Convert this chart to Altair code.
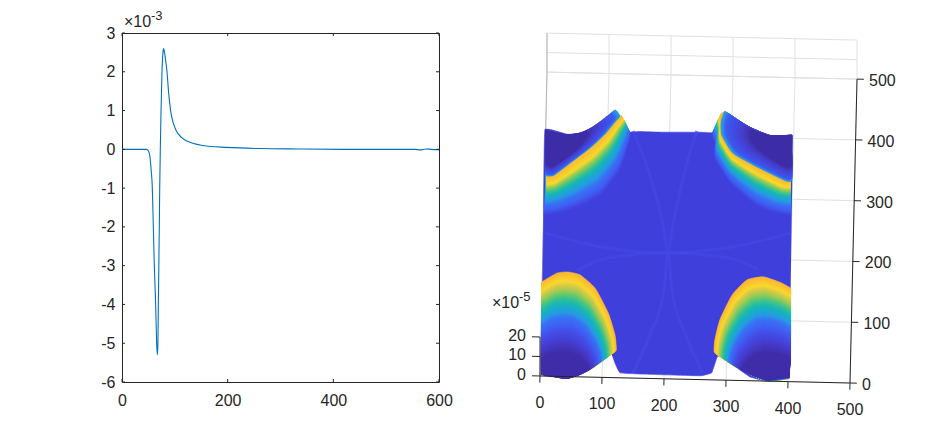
import altair as alt
import pandas as pd

FONT = "Liberation Sans"
INK = "#262626"
GRID = "#E0E0E0"

# left panel
line_x = [0, 20, 40, 46, 49, 52, 55, 57.4, 59.3, 61.2, 63.7, 65.6, 66.9, 68, 68.8, 69.7, 70.6, 71.4,
          72.5, 73.9, 75.7, 77.5, 78.8, 80.5, 83, 85.2, 88, 92, 97, 102, 113, 125, 153, 198, 261, 337,
          420, 500, 555, 565, 575, 585, 600]
line_y = [0, 0, 0, 0, -0.02, -0.12, -0.5, -1, -2, -3, -4, -5, -5.3, -5, -4, -3, -2, -1,
          0, 1, 2, 2.5, 2.6, 2.5, 2.25, 2, 1.5, 1, 0.68, 0.5, 0.3, 0.2, 0.1, 0.05, 0.02, 0.01,
          0, 0, 0, -0.015, 0.01, 0, -0.01]
left_xticks = [0, 200, 400, 600]
left_yticks = [-6, -5, -4, -3, -2, -1, 0, 1, 2, 3]

# right panel ticks
xy_ticks = [0, 100, 200, 300, 400, 500]
z_ticks = [0, 10, 20]

# surface outline, starts bottom right and ends top right
outline_u = [402, 400, 366, 339, 315, 287, 277, 258, 161, 129, 121, 115, 85, 48, 2, 4, 6,
             8, 48, 81, 105, 121, 127, 132, 142, 161, 194, 258, 281, 289, 297, 303, 331, 371, 408]
outline_v = [8, 7, 3, 10, 27, 45, 17, 12, 15, 17, 33, 48, 25, 10, 15, 150, 290,
             422, 413, 420, 438, 455, 448, 425, 418, 419, 418, 418, 417, 430, 452, 450, 430, 412, 413]
surface_blue = "#3F3FDC"

# ripples on the flat part
ripples = [
    [(8, 250), (108, 225), (206, 217), (306, 226), (404, 250)],
    [(60, 188), (108, 208), (206, 217), (306, 208), (350, 190)],
    [(150, 420), (177, 347), (200, 255), (206, 217), (200, 155), (177, 80), (150, 17)],
    [(253, 420), (232, 347), (213, 255), (206, 217), (213, 155), (235, 80), (262, 17)],
]
ripple_color = "#4549E4"

# corner humps: contour from inner to outer edge
ll_outer = [(2, 168), (27, 183), (45, 185), (65, 180), (89, 158), (110, 117), (121, 80), (123, 55), (115, 48), (85, 25), (48, 10), (2, 15)]
ll_inner = [(2, 25), (12, 32), (25, 36), (40, 38), (55, 34), (66, 28), (72, 22), (74, 18), (70, 16), (60, 12), (40, 7), (2, 15)]
lr_outer = [(405, 158), (387, 168), (360, 177), (334, 172), (310, 147), (290, 105), (282, 72), (281, 52), (289, 45), (315, 27), (366, 3), (402, 8)]
lr_inner = [(405, 25), (395, 32), (380, 36), (365, 38), (350, 34), (338, 28), (332, 22), (330, 18), (335, 16), (345, 12), (366, 6), (402, 10)]
hump_levels = [1, .95, .9, .85, .8, .75, .7, .65, .6, .55, .5, .42, .34, .26, .18, .1]
hump_colors = ["#FBB537", "#FBC62F", "#F6D92C", "#D1C94A", "#9DCB55", "#5FC870", "#2FC09A", "#18B5B7",
               "#1CA8D0", "#2899E3", "#3773F5", "#3F5FF2", "#444CE6", "#4540D6", "#4436BF", "#3E2CA8"]

# top humps: fan below the crest
ul_crest = [(12, 343), (22, 346), (48, 366), (81, 392), (105, 415), (121, 435), (129, 445)]
ul_edge = [(6, 278), (32, 282), (65, 293), (100, 312), (128, 350), (140, 385), (142, 419)]
ul_close = (10, 388)
ur_crest = [(404, 338), (396, 337), (350, 360), (311, 383), (293, 413), (292, 435), (297, 450)]
ur_edge = [(405, 277), (371, 285), (345, 297), (306, 333), (282, 372), (282, 397), (281, 417)]
ur_close = (403, 388)
fan_levels = [1, .85, .72, .62, .54, .46, .4, .34, .28, .2, .1, 0]
fan_colors = ["#3F40DD", "#3F5FF2", "#3773F5", "#2899E3", "#1CA8D0", "#18B5B7", "#2FC09A", "#5FC870",
              "#9DCB55", "#F6D92C", "#FBC62F", "#FBB537"]

# back side of the top humps
ul_back = [(8, 422), (48, 413), (81, 420), (105, 438), (121, 455), (129, 445), (121, 435), (105, 415), (81, 392), (48, 366), (22, 346), (9, 345)]
ul_core = [(8, 422), (40, 414), (58, 415), (70, 418), (78, 420), (78, 415), (72, 405), (62, 392), (48, 380), (32, 368), (18, 360), (9, 365)]
ur_back = [(406, 413), (371, 412), (331, 430), (303, 450), (297, 452), (292, 435), (293, 413), (311, 383), (350, 360), (396, 337), (406, 338), (406, 375)]
ur_core = [(406, 413), (375, 412), (358, 416), (345, 420), (340, 420), (338, 412), (342, 402), (352, 390), (372, 375), (396, 360), (406, 362), (406, 385)]
back_levels = [1, .95, .85, .7, .45, .2, 0]
back_colors = ["#21B0C0", "#2C8EEF", "#3D5CF0", "#3F50E6", "#4343DA", "#4338BE", "#3C2CA6"]


def view3d(x, y, z=0):
    # the view is almost from above, so the box only tilts a little
    return x + 0.0226 * y, 1.013 * y + 11.7 * (1 - x / 500) + 3.25 * z


def blend(a, b, t):
    return [(p[0] + (q[0] - p[0]) * t, p[1] + (q[1] - p[1]) * t) for p, q in zip(a, b)]


def mix(c1, c2, t):
    a = [int(c1[i:i + 2], 16) for i in (1, 3, 5)]
    b = [int(c2[i:i + 2], 16) for i in (1, 3, 5)]
    return "#" + "".join(f"{round(p + (q - p) * t):02X}" for p, q in zip(a, b))


def finer(levels, colors, steps=3):
    out_l, out_c = [], []
    for i in range(len(levels) - 1):
        for s in range(steps):
            f = s / steps
            out_l.append(levels[i] + (levels[i + 1] - levels[i]) * f)
            out_c.append(mix(colors[i], colors[i + 1], f))
    out_l.append(levels[-1])
    out_c.append(colors[-1])
    return out_l, out_c


polys = []


def add_poly(pts, color):
    polys.append((len(polys), pts, color))


add_poly(list(zip(outline_u, outline_v)), surface_blue)

for t, c in zip(*finer(fan_levels, fan_colors)):
    add_poly(blend(ul_crest, ul_edge, t) + [ul_close], c)
    add_poly(blend(ur_crest, ur_edge, t) + [ur_close], c)
for t, c in zip(*finer(back_levels, back_colors, 2)):
    add_poly(blend(ul_core, ul_back, t), c)
    add_poly(blend(ur_core, ur_back, t), c)
for t, c in zip(*finer(hump_levels, hump_colors)):
    add_poly(blend(ll_inner, ll_outer, t), c)
    add_poly(blend(lr_inner, lr_outer, t), c)

poly_rows = []
for pid, pts, c in polys:
    for i, (u, v) in enumerate(pts):
        poly_rows.append({"pid": pid, "i": i, "u": u, "v": v, "c": c})
poly_df = pd.DataFrame(poly_rows)

ripple_rows = []
for k, r in enumerate(ripples):
    for i, (u, v) in enumerate(r):
        ripple_rows.append({"k": k, "i": i, "u": u, "v": v})
ripple_df = pd.DataFrame(ripple_rows)

# grid lines of the 3d box
grid_rows = []


def add_seg(rows, name, a, b):
    for i, p in enumerate((a, b)):
        u, v = view3d(*p)
        rows.append({"k": name, "i": i, "u": u, "v": v})


for t in xy_ticks:
    add_seg(grid_rows, f"fx{t}", (t, 0, 0), (t, 500, 0))
    add_seg(grid_rows, f"fy{t}", (0, t, 0), (500, t, 0))
    add_seg(grid_rows, f"wv{t}", (t, 500, 0), (t, 500, z_ticks[-1]))
for z in z_ticks:
    add_seg(grid_rows, f"wh{z}", (0, 500, z), (500, 500, z))
grid_df = pd.DataFrame(grid_rows)

edge_rows = []
add_seg(edge_rows, "e0", (0, 0, 0), (0, 500, 0))
add_seg(edge_rows, "e1", (0, 500, 0), (0, 500, 20))
edge_df = pd.DataFrame(edge_rows)

axis_rows = []
add_seg(axis_rows, "x", (0, 0, 0), (500, 0, 0))
add_seg(axis_rows, "y", (500, 0, 0), (500, 500, 0))
add_seg(axis_rows, "z", (0, 0, 0), (0, 0, 20))
for t in xy_ticks:
    add_seg(axis_rows, f"tx{t}", (t, 0, 0), (t, -11, 0))
    add_seg(axis_rows, f"ty{t}", (500, t, 0), (511, t, 0))
for z in z_ticks:
    add_seg(axis_rows, f"tz{z}", (0, 0, z), (-13, 0, z))
axis_df = pd.DataFrame(axis_rows)

label_rows = []
for t in xy_ticks:
    u, v = view3d(t, 0, 0)
    label_rows.append({"u": u, "v": v, "s": str(t), "side": "x"})
    u, v = view3d(500, t, 0)
    label_rows.append({"u": u, "v": v, "s": str(t), "side": "y"})
for z in z_ticks:
    u, v = view3d(0, 0, z)
    label_rows.append({"u": u, "v": v, "s": str(z), "side": "z"})
label_df = pd.DataFrame(label_rows)

# scales: left panel fills the plot area, right panel hangs off to the side of it
U = alt.X("u:Q", axis=None, scale=alt.Scale(domain=[0, 500], range=[418, 728]))
V = alt.Y("v:Q", axis=None, scale=alt.Scale(domain=[0, 500], range=[350, 50]))
LX = alt.Scale(domain=[0, 600])
LY = alt.Scale(domain=[-6, 3])

left_df = pd.DataFrame({"x": line_x, "y": line_y})
curve = alt.Chart(left_df).mark_line(color="#0072BD", strokeWidth=1.1, interpolate="monotone").encode(
    x=alt.X("x:Q", scale=LX, axis=alt.Axis(
        values=left_xticks, grid=False, tickSize=0, labelPadding=10, domain=False,
        labelFont=FONT, labelFontSize=16, labelColor=INK, title=None, labelFlush=False)),
    y=alt.Y("y:Q", scale=LY, axis=alt.Axis(
        values=left_yticks, grid=False, tickSize=0, labelPadding=7, domain=False,
        labelFont=FONT, labelFontSize=16, labelColor=INK, title=None, labelExpr="'' + datum.value")),
    order="x:Q",
)

ticks_b = alt.Chart(pd.DataFrame({"x": left_xticks})).mark_rule(color=INK).encode(
    x=alt.X("x:Q", scale=LX, axis=None), y=alt.value(349), y2=alt.value(346))
ticks_t = alt.Chart(pd.DataFrame({"x": left_xticks})).mark_rule(color=INK).encode(
    x=alt.X("x:Q", scale=LX, axis=None), y=alt.value(0), y2=alt.value(3))
ticks_l = alt.Chart(pd.DataFrame({"y": left_yticks})).mark_rule(color=INK).encode(
    y=alt.Y("y:Q", scale=LY, axis=None), x=alt.value(0), x2=alt.value(3))
ticks_r = alt.Chart(pd.DataFrame({"y": left_yticks})).mark_rule(color=INK).encode(
    y=alt.Y("y:Q", scale=LY, axis=None), x=alt.value(317), x2=alt.value(314))

expo_base = alt.Chart(pd.DataFrame({"s": ["×10"]})).mark_text(
    font=FONT, fontSize=16, color=INK, align="left", baseline="middle").encode(
    x=alt.value(2), y=alt.value(-11), text="s:N")
expo_pow = alt.Chart(pd.DataFrame({"s": ["-3"]})).mark_text(
    font=FONT, fontSize=13, color=INK, align="left", baseline="middle").encode(
    x=alt.value(29), y=alt.value(-17), text="s:N")

grid = alt.Chart(grid_df).mark_line(color=GRID, strokeWidth=1).encode(
    x=U, y=V, detail="k:N", order="i:Q")
edges = alt.Chart(edge_df).mark_line(color="#B5B5B5", strokeWidth=1).encode(
    x=U, y=V, detail="k:N", order="i:Q")
surface_base = alt.Chart(poly_df[poly_df["pid"] == 0]).mark_line(
    strokeWidth=0.6, interpolate="cardinal", tension=0.75).encode(
    x=U, y=V, detail="pid:Q", order="i:Q",
    fill=alt.Fill("c:N", scale=None), stroke=alt.Stroke("c:N", scale=None))
ripple = alt.Chart(ripple_df).mark_line(
    color=ripple_color, strokeWidth=3, opacity=0.7, interpolate="monotone").encode(
    x=U, y=V, detail="k:N", order="i:Q")
surface = alt.Chart(poly_df[poly_df["pid"] > 0]).mark_line(
    strokeWidth=0.6, interpolate="cardinal", tension=0.5).encode(
    x=U, y=V, detail="pid:Q", order="i:Q",
    fill=alt.Fill("c:N", scale=None), stroke=alt.Stroke("c:N", scale=None))
box = alt.Chart(axis_df).mark_line(color=INK, strokeWidth=1).encode(
    x=U, y=V, detail="k:N", order="i:Q")


def side_labels(side, **kw):
    return alt.Chart(label_df[label_df["side"] == side]).mark_text(
        font=FONT, fontSize=16, color=INK, **kw).encode(x=U, y=V, text="s:N")


xlab = side_labels("x", align="center", baseline="middle", dy=27)
ylab = side_labels("y", align="left", baseline="middle", dx=12, dy=2)
zlab = side_labels("z", align="right", baseline="middle", dx=-14, dy=-1)
expo3_base = alt.Chart(pd.DataFrame({"s": ["×10"]})).mark_text(
    font=FONT, fontSize=16, color=INK, align="left", baseline="middle").encode(
    x=alt.value(370), y=alt.value(270), text="s:N")
expo3_pow = alt.Chart(pd.DataFrame({"s": ["-5"]})).mark_text(
    font=FONT, fontSize=13, color=INK, align="left", baseline="middle").encode(
    x=alt.value(397), y=alt.value(264), text="s:N")

chart = alt.layer(
    curve, ticks_b, ticks_t, ticks_l, ticks_r, expo_base, expo_pow,
    grid, edges, surface_base, ripple, surface, box, xlab, ylab, zlab, expo3_base, expo3_pow,
).resolve_scale(x="independent", y="independent").properties(
    width=317, height=349,
    autosize=alt.AutoSizeParams(type="none"),
    padding={"left": 114, "top": 25, "right": 500, "bottom": 40},
).configure_view(stroke=INK)

chart.save("out.html", embed_options={"renderer": "svg", "actions": False})
